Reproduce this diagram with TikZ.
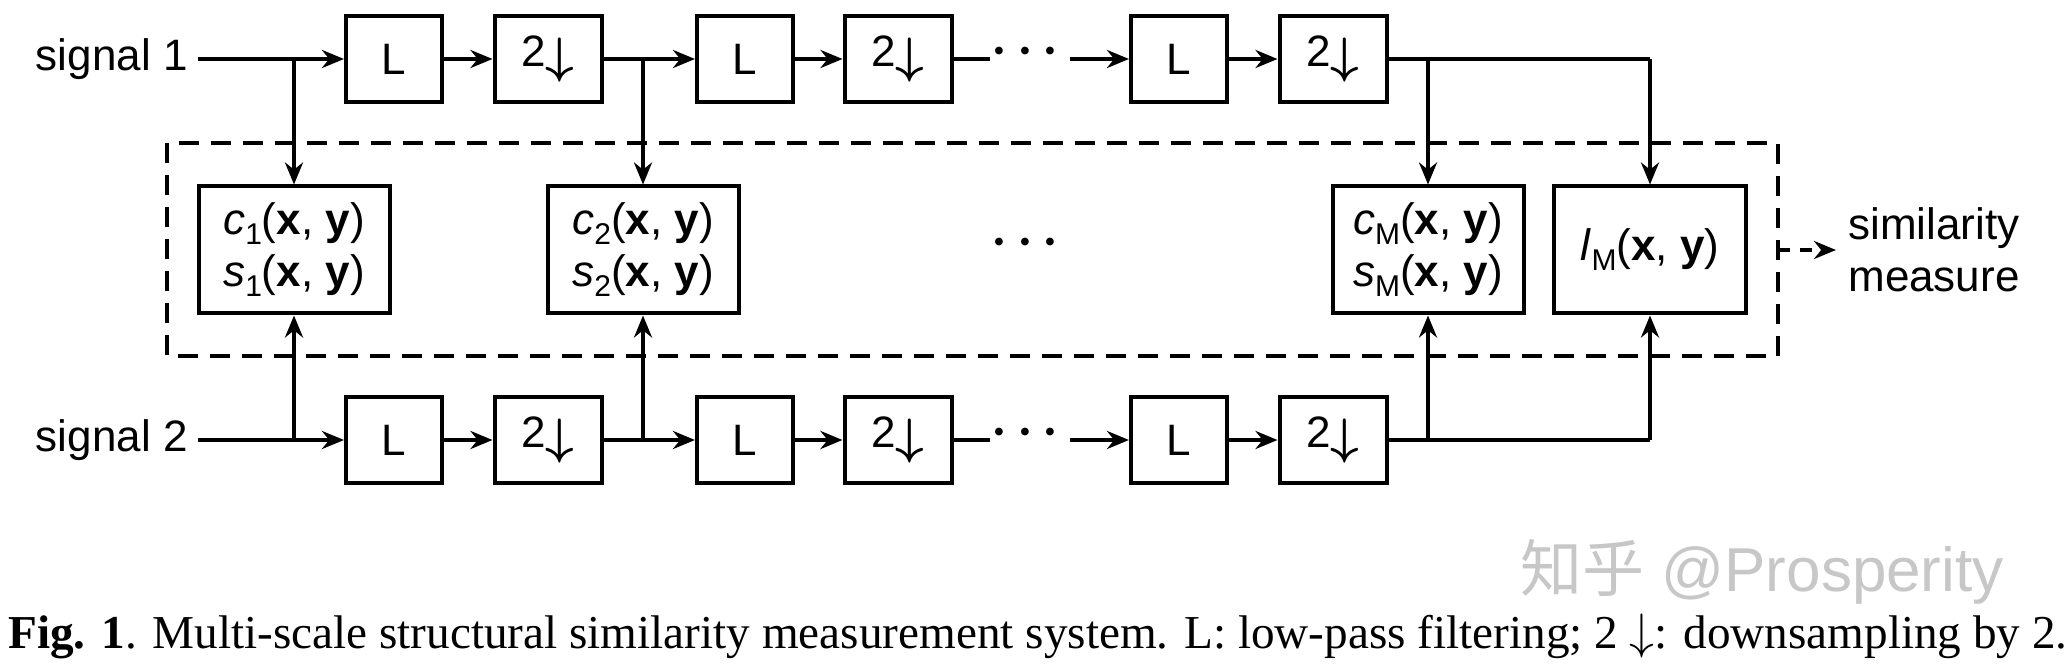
\documentclass[tikz,border=0pt]{standalone}
\usepackage{amsmath,amssymb}
\usepackage{fontspec}
\setmainfont{Liberation Sans}
\newfontfamily\capfont{Liberation Serif}
\newfontfamily\cjk{Noto Sans CJK SC}
\usetikzlibrary{arrows.meta}
\begin{document}
\begin{tikzpicture}[x=0.5pt,y=-0.5pt,
  blk/.style={draw,line width=2pt,minimum height=43pt,inner sep=0pt,font=\fontsize{22}{24}\selectfont},
  fn/.style={draw,line width=2pt,minimum width=95.5pt,minimum height=63.5pt,inner sep=0pt,align=center,font=\fontsize{22}{26}\selectfont},
  ln/.style={line width=2pt},
  ar/.style={ln,-{Stealth[length=11pt,width=9pt]}},
  dots/.style={font=\bfseries\fontsize{26}{26}\selectfont,inner sep=0pt},
  lab/.style={font=\fontsize{22}{24}\selectfont,inner sep=0pt}]
\useasboundingbox (0,0) rectangle (2068,668);
\newcommand{\dn}{2\raisebox{-3pt}{\fontsize{30}{30}\selectfont$\boldsymbol{\downarrow}$}}
\newcommand{\xy}{(\textbf{x}, \textbf{y})}
\newcommand{\sbs}[1]{\raisebox{-5pt}{\fontsize{15}{15}\selectfont #1}}
% top row
\node[lab,anchor=east] (s1) at (188,59) {signal 1};
\node[blk,minimum width=48pt] (L1) at (394,59) {L};
\node[blk,minimum width=53.5pt] (D1) at (548,59) {\dn};
\node[blk,minimum width=48pt] (L2) at (745,59) {L};
\node[blk,minimum width=53.5pt] (D2) at (898,59) {\dn};
\node[dots] (t1) at (1030,52) {$\boldsymbol{\cdots}$};
\node[blk,minimum width=48pt] (L3) at (1179,59) {L};
\node[blk,minimum width=53.5pt] (D3) at (1333,59) {\dn};
% bottom row
\node[lab,anchor=east] (s2) at (188,440) {signal 2};
\node[blk,minimum width=48pt] (B1) at (394,440) {L};
\node[blk,minimum width=53.5pt] (E1) at (548,440) {\dn};
\node[blk,minimum width=48pt] (B2) at (745,440) {L};
\node[blk,minimum width=53.5pt] (E2) at (898,440) {\dn};
\node[dots] (t2) at (1030,433) {$\boldsymbol{\cdots}$};
\node[blk,minimum width=48pt] (B3) at (1179,440) {L};
\node[blk,minimum width=53.5pt] (E3) at (1333,440) {\dn};
% middle
\node[fn] (c1) at (294,250) {\textit{c}\sbs{1}\xy\\\textit{s}\sbs{1}\xy};
\node[fn] (c2) at (643,250) {\textit{c}\sbs{2}\xy\\\textit{s}\sbs{2}\xy};
\node[dots] (t3) at (1030,243) {$\boldsymbol{\cdots}$};
\node[fn] (cM) at (1428,250) {\textit{c}\sbs{M}\xy\\\textit{s}\sbs{M}\xy};
\node[fn,minimum width=96pt] (lM) at (1650,250) {\textit{l}\sbs{M}\xy};
\draw[ln,dash pattern=on 10pt off 6pt] (167,143) rectangle (1778,356);
\coordinate (o) at (1778,250);
\node[lab,anchor=west,align=left,font=\fontsize{22}{26}\selectfont] (sim) at (1848,250) {similarity\\measure};
\draw[ar,dash pattern=on 6pt off 5pt] (o) -- ([xshift=-6pt]sim.west);
% connectors top
\coordinate (a1) at (294,59); \coordinate (a2) at (643,59);
\coordinate (a3) at (1428,59); \coordinate (a4) at (1650,59);
\draw[ar] ([xshift=5pt]s1.east) -- (L1.west);
\draw[ar] (L1) -- (D1);
\draw[ar] (D1) -- (L2);
\draw[ar] (L2) -- (D2);
\draw[ln] (D2.east) -- (990,59);
\draw[ar] (1070,59) -- (L3.west);
\draw[ar] (L3) -- (D3);
\draw[ln] (D3.east) -- (a4);
\draw[ar] (a1) -- (c1.north);
\draw[ar] (a2) -- (c2.north);
\draw[ar] (a3) -- (cM.north);
\draw[ar] (a4) -- (lM.north);
% connectors bottom
\coordinate (b1) at (294,440); \coordinate (b2) at (643,440);
\coordinate (b3) at (1428,440); \coordinate (b4) at (1650,440);
\draw[ar] ([xshift=5pt]s2.east) -- (B1.west);
\draw[ar] (B1) -- (E1);
\draw[ar] (E1) -- (B2);
\draw[ar] (B2) -- (E2);
\draw[ln] (E2.east) -- (990,440);
\draw[ar] (1070,440) -- (B3.west);
\draw[ar] (B3) -- (E3);
\draw[ln] (E3.east) -- (b4);
\draw[ar] (b1) -- (c1.south);
\draw[ar] (b2) -- (c2.south);
\draw[ar] (b3) -- (cM.south);
\draw[ar] (b4) -- (lM.south);
% watermark and caption
\node[anchor=west,inner sep=0pt,text=black!22,font=\fontsize{31}{34}\selectfont] (wm) at (1520,572) {{\cjk 知乎} @Prosperity};
\node[anchor=west,inner sep=0pt,font=\capfont\fontsize{23.6}{26}\selectfont] (cap) at (8,636) {\textbf{Fig. 1}. Multi-scale structural similarity measurement system. L: low-pass filtering; 2 $\downarrow$: downsampling by 2.};
\end{tikzpicture}
\end{document}
